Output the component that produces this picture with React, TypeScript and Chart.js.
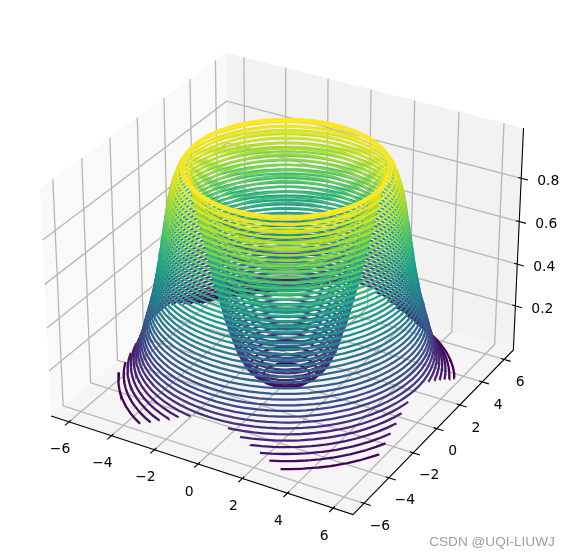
import React, { useEffect, useRef } from "react";
import { Chart, registerables } from "chart.js";

Chart.register(...registerables);

const xTicks = [-6, -4, -2, 0, 2, 4, 6];
const yTicks = [-6, -4, -2, 0, 2, 4, 6];
const zTicks = [0.2, 0.4, 0.6, 0.8];
const levels = [0.02,0.0425,0.065,0.0875,0.11,0.1325,0.155,0.1775,0.2,0.2225,0.245,0.2675,0.29,0.3125,0.335,0.3575,0.38,0.4025,0.425,0.4475,0.47,0.4925,0.515,0.5375,0.56,0.5825,0.605,0.6275,0.65,0.6725,0.695,0.7175,0.74,0.7625,0.785,0.8075,0.83,0.8525,0.875,0.8975,0.92,0.9425,0.965,0.9875];
const outerRadii = [6.80,6.58,6.42,6.28,6.16,6.06,5.98,5.91,5.84,5.78,5.73,5.67,5.61,5.55,5.49,5.44,5.38,5.33,5.29,5.25,5.20,5.16,5.12,5.08,5.05,5.02,4.98,4.95,4.92,4.88,4.85,4.81,4.78,4.75,4.71,4.68,4.64,4.60,4.55,4.49,4.42,4.34,4.25,4.10];
const innerRadii = [0.95,1.25,1.47,1.65,1.79,1.89,1.98,2.06,2.13,2.20,2.26,2.33,2.40,2.46,2.52,2.57,2.62,2.68,2.73,2.78,2.83,2.88,2.93,2.98,3.02,3.06,3.11,3.15,3.20,3.24,3.29,3.33,3.37,3.42,3.47,3.51,3.56,3.60,3.65,3.69,3.74,3.79,3.85,3.98];
const viridis = ["#440154","#482475","#414487","#355f8d","#2a788e","#21918c","#22a884","#44bf70","#7ad151","#bddf26","#fde725"];
const watermark = "CSDN @UQI-LIUWJ";

// axis limits and camera of the 3D view
const XLIM = [-6.86, 6.86];
const YLIM = [-6.86, 6.86];
const ZLIM = [-0.014, 1.028];
const DATA_EDGE = 6;
const GRID_N = 30;
const ELEV = (30 * Math.PI) / 180;
const AZIM = (-60 * Math.PI) / 180;
const DIST = 10;
const BOX = [1.1905, 1.1905, 0.8929];
const PX_SCALE = 2905;
const PX_CX = 286.5;
const PX_CY = 272.5;
const W = 569;
const H = 559;

const w = [Math.cos(ELEV) * Math.cos(AZIM), Math.cos(ELEV) * Math.sin(AZIM), Math.sin(ELEV)];
const uLen = Math.hypot(w[0], w[1]);
const u = [-w[1] / uLen, w[0] / uLen, 0];
const v = [w[1] * u[2] - w[2] * u[1], w[2] * u[0] - w[0] * u[2], w[0] * u[1] - w[1] * u[0]];

function project(x: number, y: number, z: number) {
  const d = [
    ((x - XLIM[0]) / (XLIM[1] - XLIM[0]) - 0.5) * BOX[0],
    ((y - YLIM[0]) / (YLIM[1] - YLIM[0]) - 0.5) * BOX[1],
    ((z - ZLIM[0]) / (ZLIM[1] - ZLIM[0]) - 0.5) * BOX[2],
  ];
  const dot = (a: number[]) => a[0] * d[0] + a[1] * d[1] + a[2] * d[2];
  const depth = DIST - dot(w);
  return { x: dot(u) / depth, y: dot(v) / depth };
}

const GAP = { x: NaN, y: NaN };

function ring(r: number, z: number) {
  const pts: number[][] = [];
  for (let k = 0; k < GRID_N; k++) {
    const g = -DATA_EDGE + (k * 2 * DATA_EDGE) / (GRID_N - 1);
    if (Math.abs(g) >= r) continue;
    const s = Math.sqrt(r * r - g * g);
    pts.push([g, s], [g, -s], [s, g], [-s, g]);
  }
  const inside = pts
    .filter((p) => Math.abs(p[0]) <= DATA_EDGE + 1e-9 && Math.abs(p[1]) <= DATA_EDGE + 1e-9)
    .map((p) => ({ a: Math.atan2(p[1], p[0]), p }))
    .sort((a, b) => a.a - b.a);
  const out: { x: number; y: number }[] = [];
  inside.forEach((q, i) => {
    const n = inside[(i + 1) % inside.length];
    out.push(project(q.p[0], q.p[1], z));
    const end = i === inside.length - 1 ? n.a + 2 * Math.PI : n.a;
    const mid = (q.a + end) / 2;
    const ok = Math.abs(r * Math.cos(mid)) <= DATA_EDGE && Math.abs(r * Math.sin(mid)) <= DATA_EDGE;
    if (!ok) out.push(GAP);
    else if (i === inside.length - 1) out.push(project(n.p[0], n.p[1], z));
  });
  return out;
}

function hex(c: string) {
  return [1, 3, 5].map((i) => parseInt(c.slice(i, i + 2), 16));
}

function levelColor(t: number) {
  const f = t * (viridis.length - 1);
  const i = Math.min(Math.floor(f), viridis.length - 2);
  const a = hex(viridis[i]);
  const b = hex(viridis[i + 1]);
  const m = a.map((c, j) => Math.round(c + (b[j] - c) * (f - i)));
  return `rgb(${m[0]},${m[1]},${m[2]})`;
}

function lineSet(data: any[], color: string, width: number, order: number, extra: any = {}) {
  return { type: "scatter", data, showLine: true, borderColor: color, backgroundColor: color, borderWidth: width, pointRadius: 0, order, spanGaps: false, tension: 0, ...extra };
}

function buildDatasets() {
  const [x0, x1] = XLIM;
  const [y0, y1] = YLIM;
  const [z0, z1] = ZLIM;
  const sets: any[] = [];
  const pane = (corners: number[][], color: string) =>
    sets.push(lineSet(corners.map((c) => project(c[0], c[1], c[2])), "rgba(0,0,0,0)", 0, 1000, { fill: "shape", backgroundColor: color }));
  pane([[x0, y0, z0], [x0, y1, z0], [x0, y1, z1], [x0, y0, z1], [x0, y0, z0]], "#f9f9f9");
  pane([[x0, y1, z0], [x1, y1, z0], [x1, y1, z1], [x0, y1, z1], [x0, y1, z0]], "#f2f2f2");
  pane([[x0, y0, z0], [x1, y0, z0], [x1, y1, z0], [x0, y1, z0], [x0, y0, z0]], "#f5f5f5");

  const grid: any[] = [];
  xTicks.forEach((t) => grid.push(project(t, y0, z0), project(t, y1, z0), project(t, y1, z1), GAP));
  yTicks.forEach((t) => grid.push(project(x1, t, z0), project(x0, t, z0), project(x0, t, z1), GAP));
  zTicks.forEach((t) => grid.push(project(x0, y0, t), project(x0, y1, t), project(x1, y1, t), GAP));
  sets.push(lineSet(grid, "#b6b6b6", 1.3, 900));

  const axes = [project(x0, y0, z0), project(x1, y0, z0), project(x1, y1, z0), project(x1, y1, z1)];
  sets.push(lineSet(axes, "#000000", 1.1, 800));
  const marks: any[] = [];
  xTicks.forEach((t) => marks.push(project(t, y0 + 0.14, z0), project(t, y0 - 0.3, z0), GAP));
  yTicks.forEach((t) => marks.push(project(x1 - 0.14, t, z0), project(x1 + 0.3, t, z0), GAP));
  zTicks.forEach((t) => marks.push(project(x1 - 0.14, y1, t), project(x1 + 0.3, y1, t), GAP));
  sets.push(lineSet(marks, "#000000", 1.1, 800));

  levels.forEach((z, i) => {
    const color = levelColor(i / (levels.length - 1));
    const order = levels.length - i;
    sets.push(lineSet(ring(outerRadii[i], z), color, 2.3, order));
    sets.push(lineSet(ring(innerRadii[i], z), color, 2.3, order));
  });
  return sets;
}

const textPlugin = {
  id: "axisText",
  afterDatasetsDraw(chart: any) {
    const { ctx, scales } = chart;
    const px = (p: { x: number; y: number }) => [scales.x.getPixelForValue(p.x), scales.y.getPixelForValue(p.y)];
    ctx.save();
    ctx.font = '13.9px "DejaVu Sans"';
    ctx.fillStyle = "#000";
    ctx.textAlign = "center";
    ctx.textBaseline = "middle";
    const fmt = (t: number) => String(t).replace("-", "\u2212");
    xTicks.forEach((t) => {
      const [a, b] = px(project(t, YLIM[0], ZLIM[0]));
      ctx.fillText(fmt(t), a - 9, b + 28);
    });
    yTicks.forEach((t) => {
      const [a, b] = px(project(XLIM[1], t, ZLIM[0]));
      ctx.fillText(fmt(t), a + 16, b + 23);
    });
    zTicks.forEach((t) => {
      const [a, b] = px(project(XLIM[1], YLIM[1], t));
      ctx.fillText(t.toFixed(1), a + 27, b + 3);
    });
    ctx.font = '13.6px "Liberation Sans"';
    ctx.fillStyle = "rgba(120,120,120,0.72)";
    ctx.fillText(watermark, 492, 542);
    ctx.restore();
  },
};

export default function App() {
  const ref = useRef<HTMLCanvasElement>(null);
  useEffect(() => {
    const chart = new Chart(ref.current as HTMLCanvasElement, {
      type: "scatter",
      data: { datasets: buildDatasets() as any },
      options: {
        animation: false,
        responsive: false,
        events: [],
        layout: { padding: 0 },
        plugins: { legend: { display: false }, tooltip: { enabled: false } },
        scales: {
          x: { type: "linear", display: false, min: (0 - PX_CX) / PX_SCALE, max: (W - PX_CX) / PX_SCALE },
          y: { type: "linear", display: false, min: (PX_CY - H) / PX_SCALE, max: PX_CY / PX_SCALE },
        },
      },
      plugins: [textPlugin],
    } as any);
    return () => chart.destroy();
  }, []);
  return (
    <div style={{ position: "absolute", left: 0, top: 0, width: W, height: H, background: "#fff" }}>
      <canvas ref={ref} width={W} height={H} style={{ display: "block" }} />
    </div>
  );
}
